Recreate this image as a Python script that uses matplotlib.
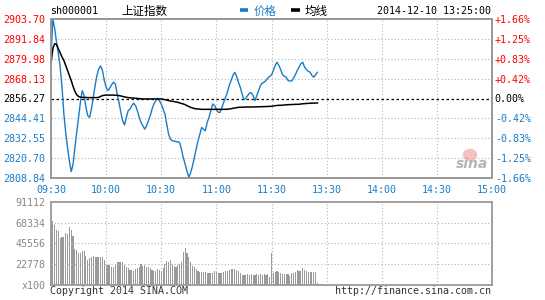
import matplotlib.pyplot as plt
from matplotlib.lines import Line2D
from matplotlib.patches import Ellipse

W, H = 545, 300
BLUE = "#1a7cc6"
RED = "#ff0000"
GRAY = "#999999"
GRID = "#b4b4b4"

prev_close = 2856.27
price_ticks = [2808.84, 2820.70, 2832.55, 2844.41, 2856.27, 2868.13, 2879.98, 2891.84, 2903.70]
pct_labels = ["-1.66%", "-1.25%", "-0.83%", "-0.42%", "0.00%",
              "+0.42%", "+0.83%", "+1.25%", "+1.66%"]
time_ticks = [0, 30, 60, 90, 120, 150, 180, 210, 240]
time_labels = ["09:30", "10:00", "10:30", "11:00", "11:30", "13:30", "14:00", "14:30", "15:00"]
vol_ticks = [0, 22778, 45556, 68334, 91112]
vol_labels = ["x100", "22778", "45556", "68334", "91112"]

# one value per minute, 09:30 .. 11:30 (=13:00) .. 13:25
price = [
    2880.0, 2903.7, 2898.0, 2890.0, 2883.0, 2875.0, 2863.0, 2847.0, 2836.0, 2827.0,
    2819.0, 2812.6, 2817.0, 2827.0, 2836.0, 2845.0, 2854.0, 2861.0, 2858.0, 2851.0,
    2846.0, 2845.0, 2850.0, 2857.0, 2864.0, 2870.0, 2874.0, 2875.7, 2873.0, 2867.0,
    2863.0, 2861.0, 2862.5, 2864.5, 2866.0, 2865.0, 2859.0, 2854.0, 2848.0, 2843.0,
    2840.5, 2845.0, 2849.0, 2850.0, 2852.0, 2853.5, 2852.0, 2849.0, 2845.0, 2842.0,
    2840.0, 2838.0, 2840.0, 2843.0, 2846.0, 2850.0, 2853.0, 2855.0, 2856.4, 2855.0,
    2853.0, 2850.0, 2847.0, 2841.0, 2835.0, 2832.0, 2831.0, 2831.0, 2830.5, 2830.5,
    2830.0, 2826.0, 2821.0, 2817.0, 2813.0, 2809.3, 2812.0, 2816.0, 2821.0, 2826.0,
    2831.0, 2835.0, 2839.0, 2838.0, 2837.0, 2842.0, 2845.0, 2849.0, 2853.0, 2852.0,
    2850.0, 2848.0, 2848.0, 2851.0, 2854.0, 2857.0, 2860.0, 2864.0, 2867.0, 2870.0,
    2871.9, 2869.5, 2866.0, 2863.0, 2859.0, 2855.5, 2856.5, 2858.0, 2859.5, 2859.8,
    2858.0, 2855.0, 2858.0, 2861.0, 2864.0, 2865.5, 2866.0, 2867.0, 2868.5, 2869.5,
    2870.3, 2873.0, 2876.0, 2877.9, 2876.0, 2873.5, 2870.5, 2869.5, 2869.0, 2867.0,
    2866.7, 2866.7, 2868.5, 2870.5, 2873.0, 2875.0, 2877.0, 2877.9, 2875.0, 2873.5,
    2872.5, 2872.0, 2870.0, 2869.0, 2870.5, 2871.9,
]

avg_price = [
    2877.0, 2886.0, 2889.0, 2888.5, 2886.0, 2883.5, 2881.0, 2879.0, 2876.0, 2873.0,
    2870.0, 2867.0, 2863.5, 2860.5, 2858.5, 2857.5, 2857.0, 2857.0, 2856.9, 2856.9,
    2856.8, 2856.8, 2856.8, 2856.8, 2856.8, 2856.8, 2857.0, 2857.5, 2858.0, 2858.2,
    2858.3, 2858.3, 2858.3, 2858.3, 2858.3, 2858.2, 2858.2, 2858.0, 2857.8, 2857.5,
    2857.2, 2857.0, 2856.8, 2856.7, 2856.6, 2856.5, 2856.4, 2856.3, 2856.2, 2856.1,
    2856.0, 2856.0, 2856.0, 2856.0, 2856.0, 2856.0, 2856.0, 2856.0, 2856.0, 2856.0,
    2856.0, 2855.8, 2855.6, 2855.3, 2855.0, 2854.8, 2854.6, 2854.4, 2854.2, 2854.0,
    2853.6, 2853.3, 2853.0, 2852.6, 2852.0, 2851.5, 2851.0, 2850.6, 2850.3, 2850.1,
    2850.0, 2849.9, 2849.8, 2849.8, 2849.8, 2849.8, 2849.8, 2849.8, 2849.8, 2849.8,
    2849.8, 2849.8, 2849.8, 2849.8, 2849.8, 2849.8, 2849.9, 2850.0, 2850.2, 2850.4,
    2850.6, 2850.8, 2851.0, 2851.0, 2851.1, 2851.1, 2851.2, 2851.2, 2851.2, 2851.2,
    2851.2, 2851.3, 2851.3, 2851.3, 2851.4, 2851.4, 2851.4, 2851.5, 2851.5, 2851.6,
    2851.6, 2851.8, 2852.0, 2852.1, 2852.2, 2852.2, 2852.3, 2852.4, 2852.5, 2852.6,
    2852.6, 2852.7, 2852.7, 2852.8, 2852.8, 2852.8, 2853.0, 2853.1, 2853.2, 2853.3,
    2853.4, 2853.4, 2853.5, 2853.5, 2853.6, 2853.6,
]

# volume in units of 100 shares
volume = [
    67400, 70000, 65600, 60200, 59500, 51000, 52200, 52900, 56500, 55800,
    63100, 60200, 53600, 39000, 38300, 34600, 34600, 37200, 37200, 31700,
    27300, 29900, 31000, 31700, 31000, 31000, 31000, 31000, 31000, 27300,
    22200, 21900, 21500, 19400, 19400, 21900, 25500, 25500, 25500, 25500,
    21900, 19400, 18300, 16400, 16400, 15700, 17900, 18300, 20100, 23000,
    20800, 21900, 19400, 19400, 18300, 16400, 15700, 15700, 17200, 16400,
    15700, 18300, 23000, 26600, 25500, 27300, 23000, 20800, 19400, 21900,
    23000, 25500, 36500, 40100, 34600, 30300, 25500, 20800, 19400, 17200,
    15700, 14600, 14600, 14600, 14600, 13500, 13500, 13500, 13500, 15700,
    14600, 13500, 13500, 12800, 14600, 15700, 15700, 16400, 17200, 17200,
    17200, 16400, 15700, 13500, 11000, 11000, 11000, 11700, 11000, 11700,
    11000, 11000, 11700, 11000, 12000, 11000, 11700, 11000, 11700, 8400,
    34600, 12800, 14600, 15700, 14600, 12800, 12000, 12000, 12000, 12000,
    9900, 12800, 12800, 14600, 16400, 15700, 15700, 18300, 16400, 15700,
    14600, 14600, 14600, 14600, 14600, 1800,
]

minutes = list(range(len(price)))

plt.rcParams["font.family"] = ["DejaVu Sans Mono", "Noto Sans CJK SC"]
MONO = 7.2
CJK = ["Noto Sans CJK SC", "DejaVu Sans"]

fig = plt.figure(figsize=(W / 100, H / 100), dpi=100)
ax = fig.add_axes([51 / W, 1 - 178 / H, 441 / W, 159 / H])
axv = fig.add_axes([51 / W, 1 - 285 / H, 441 / W, 83.3 / H])


def style_frame(a):
    for s in a.spines.values():
        s.set_color(GRAY)
        s.set_linewidth(1.3)
    a.tick_params(length=0, labelsize=MONO)


# price panel
ax.set_xlim(0, 240)
ax.set_ylim(price_ticks[0], price_ticks[-1])
for y in price_ticks[1:-1]:
    if y != prev_close:
        ax.axhline(y, color=GRID, lw=0.8, ls=(0, (1, 2)), zorder=1)
for t in time_ticks[1:-1]:
    ax.axvline(t, color=GRID, lw=0.8, ls=(0, (1, 2)), zorder=1)
ax.axhline(prev_close, color="black", lw=0.9, ls=(0, (2, 2)), zorder=2)
ax.plot(minutes, price, color=BLUE, lw=1.0, zorder=3)
ax.plot(minutes, avg_price, color="black", lw=1.1, zorder=4)
style_frame(ax)
ax.set_yticks(price_ticks)
ax.set_yticklabels([f"{v:.2f}" for v in price_ticks])
ax.tick_params(axis="y", pad=4)
for v, lab in zip(price_ticks, ax.get_yticklabels()):
    lab.set_color(RED if v > prev_close else ("black" if v == prev_close else BLUE))
ax.set_xticks(time_ticks)
ax.set_xticklabels(time_labels, color=BLUE)
ax.tick_params(axis="x", pad=5)

ax2 = ax.twinx()
ax2.set_ylim(price_ticks[0], price_ticks[-1])
ax2.set_yticks(price_ticks)
ax2.set_yticklabels(pct_labels)
style_frame(ax2)
ax2.tick_params(axis="y", pad=2)
for v, lab in zip(price_ticks, ax2.get_yticklabels()):
    lab.set_color(RED if v > prev_close else ("black" if v == prev_close else BLUE))

# volume panel
axv.set_xlim(0, 240)
axv.set_ylim(0, vol_ticks[-1])
axv.bar(minutes, volume, width=0.62, color="#9a9a9a", zorder=2)
for y in vol_ticks[1:-1]:
    axv.axhline(y, color=GRID, lw=0.8, ls=(0, (1, 2)), zorder=3)
for t in time_ticks[1:-1]:
    axv.axvline(t, color=GRID, lw=0.8, ls=(0, (1, 2)), zorder=3)
style_frame(axv)
axv.set_xticks([])
axv.set_yticks(vol_ticks)
axv.set_yticklabels(vol_labels, color="#888888")
axv.tick_params(axis="y", pad=4)


def ftext(x, y, s, **kw):
    fig.text(x / W, 1 - y / H, s, va="center", **kw)


# header
ftext(50, 11, "sh000001", fontsize=MONO, ha="left")
ftext(121, 11, "上证指数", fontsize=8.3, family=CJK, ha="left")
fig.add_artist(Line2D([240 / W, 248 / W], [1 - 10 / H] * 2, color=BLUE, lw=2.6,
                      solid_capstyle="butt"))
ftext(254, 11, "价格", fontsize=8.3, family=CJK, ha="left", color=BLUE)
fig.add_artist(Line2D([291 / W, 300 / W], [1 - 10 / H] * 2, color="black", lw=2.6,
                      solid_capstyle="butt"))
ftext(305, 11, "均线", fontsize=8.3, family=CJK, ha="left")
ftext(491, 11, "2014-12-10 13:25:00", fontsize=MONO, ha="right")

# footer
ftext(50, 291, "Copyright 2014 SINA.COM", fontsize=MONO, ha="left", color="#333333")
ftext(491, 291, "http://finance.sina.com.cn", fontsize=MONO, ha="right", color="#333333")

# sina watermark
fig.add_artist(Ellipse((470 / W, 1 - 155 / H), 13 / W, 11 / H, color="#f4b4b4", alpha=0.8))
ftext(472, 164, "sina", fontsize=10, family="DejaVu Sans", fontstyle="italic",
      fontweight="bold", ha="center", color="#b5b5b5")

fig.savefig("out.png", dpi=100)
